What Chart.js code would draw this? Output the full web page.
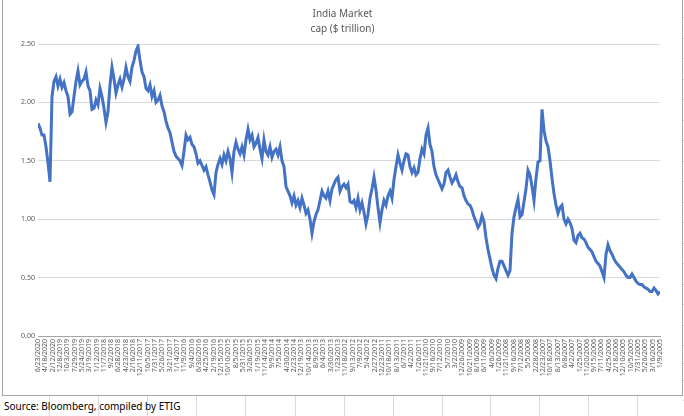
<!DOCTYPE html>
<html><head><meta charset="utf-8">
<script src="https://cdn.jsdelivr.net/npm/chart.js@4/dist/chart.umd.min.js"></script>
<style>
html,body{margin:0;padding:0;background:#fff;width:684px;height:416px;overflow:hidden;position:relative;font-family:"Noto Sans",sans-serif;}
.vl{position:absolute;width:1px;background:#dadada;top:396px;height:20px;}
.hl{position:absolute;height:1px;background:#dadada;left:683px;width:2px;}
#frame{position:absolute;left:2px;top:-1px;width:679px;height:395px;border:1px solid #a6a6a6;background:#fff;}
#cv{position:absolute;left:0;top:0;}
#title{position:absolute;left:0;top:6px;width:679px;text-align:center;font-size:10px;line-height:15px;color:#595959;}
#src{position:absolute;left:4px;top:399px;font-size:10px;line-height:14px;color:#000;}
</style></head>
<body>
<div id="grid"></div>
<div id="frame">
  <canvas id="cv" width="677" height="394"></canvas>
  <div id="title">India Market<br>cap ($ trillion)</div>
</div>
<div id="src">Source: Bloomberg, compiled by ETIG</div>
<script>
// Market cap ($ trillion), newest (6/23/2020) on the left to oldest (1/9/2005) on the right, evenly sampled
const marketCap = [
1.82,1.78,1.72,1.72,1.62,1.48,1.32,2.05,2.18,2.22,
2.14,2.20,2.13,2.17,2.10,2.05,1.90,1.92,2.05,2.18,
2.27,2.15,2.18,2.20,2.26,2.14,2.10,1.94,1.95,2.02,
1.98,2.12,2.05,1.95,1.83,1.92,2.15,2.30,2.20,2.08,
2.15,2.20,2.13,2.20,2.30,2.22,2.18,2.30,2.36,2.44,
2.48,2.36,2.26,2.22,2.12,2.10,2.15,2.05,2.10,2.00,
2.02,2.06,1.97,1.92,1.84,1.78,1.74,1.66,1.58,1.54,
1.52,1.50,1.46,1.58,1.72,1.68,1.70,1.64,1.62,1.56,
1.48,1.50,1.46,1.42,1.45,1.38,1.32,1.25,1.21,1.40,
1.47,1.52,1.47,1.55,1.50,1.58,1.52,1.40,1.58,1.66,
1.60,1.56,1.62,1.55,1.68,1.77,1.68,1.72,1.62,1.65,
1.70,1.60,1.52,1.68,1.58,1.55,1.62,1.53,1.58,1.60,
1.55,1.62,1.50,1.45,1.28,1.24,1.20,1.14,1.20,1.12,
1.16,1.10,1.18,1.12,1.05,1.08,1.00,0.88,0.98,1.04,
1.08,1.16,1.24,1.20,1.18,1.24,1.16,1.26,1.30,1.34,
1.36,1.24,1.28,1.30,1.27,1.30,1.15,1.14,1.16,1.10,
1.18,1.08,1.14,1.06,0.96,1.04,1.18,1.26,1.36,1.25,
1.10,0.97,1.08,1.16,1.12,1.20,1.24,1.18,1.34,1.45,
1.55,1.48,1.42,1.50,1.56,1.55,1.45,1.40,1.44,1.38,
1.40,1.52,1.60,1.56,1.72,1.78,1.64,1.58,1.45,1.38,
1.34,1.30,1.26,1.30,1.40,1.42,1.36,1.31,1.34,1.38,
1.32,1.28,1.27,1.20,1.16,1.13,1.12,1.08,1.02,0.98,
0.93,0.96,1.03,0.98,0.84,0.74,0.66,0.58,0.52,0.49,
0.58,0.64,0.64,0.60,0.56,0.52,0.56,0.88,1.02,1.10,
1.17,1.02,1.04,1.15,1.26,1.42,1.38,1.28,1.16,1.35,
1.49,1.50,1.94,1.76,1.67,1.62,1.50,1.35,1.22,1.12,
1.05,1.10,1.12,1.00,0.96,1.00,0.97,0.92,0.82,0.80,
0.86,0.88,0.84,0.83,0.80,0.76,0.74,0.72,0.68,0.64,
0.62,0.60,0.55,0.50,0.70,0.78,0.73,0.70,0.66,0.63,
0.61,0.59,0.57,0.55,0.52,0.50,0.50,0.53,0.50,0.47,
0.45,0.44,0.44,0.42,0.41,0.40,0.38,0.38,0.41,0.39,
0.36,0.38
];

const dateLabels = [
"6/23/2020","4/18/2020","2/12/2020","12/8/2019","10/3/2019","7/29/2019","5/24/2019","3/19/2019","1/12/2019","11/7/2018",
"9/2/2018","6/28/2018","4/23/2018","2/16/2018","12/11/2017","10/5/2017","7/31/2017","5/26/2017","3/21/2017","1/14/2017",
"11/9/2016","9/4/2016","6/30/2016","4/25/2016","2/19/2016","12/15/2015","10/10/2015","8/5/2015","5/31/2015","3/26/2015",
"1/19/2015","11/14/2014","9/9/2014","7/5/2014","4/30/2014","2/23/2014","12/19/2013","10/14/2013","8/9/2013","6/4/2013",
"3/30/2013","1/23/2013","11/18/2012","9/13/2012","7/9/2012","5/4/2012","2/27/2012","12/23/2011","10/18/2011","8/13/2011",
"6/7/2011","4/2/2011","1/26/2011","11/21/2010","9/16/2010","7/12/2010","5/7/2010","3/2/2010","12/26/2009","10/21/2009",
"8/16/2009","6/11/2009","4/6/2009","1/26/2009","11/21/2008","9/16/2008","7/12/2008","5/5/2008","2/28/2008","12/23/2007",
"10/18/2007","8/13/2007","6/8/2007","4/2/2007","1/25/2007","11/20/2006","9/15/2006","7/11/2006","4/25/2006","2/18/2006",
"12/10/2005","10/5/2005","7/31/2005","5/26/2005","3/16/2005","1/9/2005"
];

const yTicks = [0, 0.5, 1.0, 1.5, 2.0, 2.5];

// spreadsheet cell gridlines (decoration)
(function(){
  const g = document.getElementById('grid');
  [49,98,147,196,245,295,344,393,442,490,539,588,637].forEach(x=>{
    const d=document.createElement('div'); d.className='vl'; d.style.left=x+'px'; g.appendChild(d);
  });
  [17,38,58,79,99,120,140,161,181,202,222,243,263,284,304,325,345,363,380,400].forEach(y=>{
    const d=document.createElement('div'); d.className='hl'; d.style.top=y+'px'; g.appendChild(d);
  });
})();

const N = marketCap.length;
const pts = marketCap.map((v,i)=>({x:i, y:v}));
const tickFont = {family:"Noto Sans", size:7};

new Chart(document.getElementById('cv'), {
  type:'line',
  data:{datasets:[{data:pts, borderColor:'#4472C4', borderWidth:3, pointRadius:0, tension:0, fill:false}]},
  options:{
    responsive:false, animation:false, events:[],
    layout:{padding:{left:0,right:20,top:44,bottom:0}},
    plugins:{legend:{display:false}, tooltip:{enabled:false}, title:{display:false}},
    scales:{
      x:{type:'linear', min:0, max:N-1, offset:false,
        grid:{display:false, drawTicks:false},
        border:{display:true, color:'#a6a6a6', width:1},
        afterBuildTicks:(axis)=>{ axis.ticks = dateLabels.map((_,k)=>({value:k*(N-1)/(dateLabels.length-1)})); },
        afterFit:(s)=>{ s.height = 58; },
        ticks:{autoSkip:false, maxRotation:90, minRotation:90, padding:3, color:'#595959', font:tickFont,
          callback:(v,idx)=>dateLabels[idx]}
      },
      y:{min:0, max:2.5,
        afterBuildTicks:(axis)=>{ axis.ticks = yTicks.map(v=>({value:v})); },
        afterFit:(s)=>{ s.width = 35; },
        grid:{color:'#d9d9d9', lineWidth:1, drawTicks:false},
        border:{display:false},
        ticks:{padding:3, color:'#595959', font:tickFont, callback:(v)=>v.toFixed(2)}
      }
    }
  }
});
</script>
</body></html>
